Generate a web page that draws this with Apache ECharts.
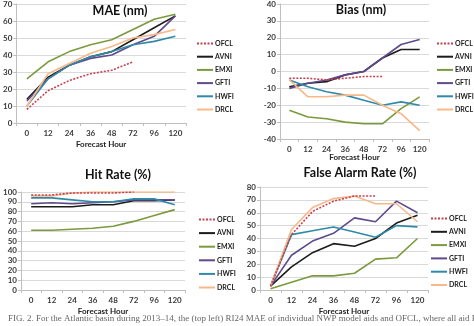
<!DOCTYPE html>
<html>
<head>
<meta charset="utf-8">
<script src="https://cdn.jsdelivr.net/npm/echarts@6/dist/echarts.min.js"></script>
<style>
  html, body { margin: 0; padding: 0; background: #fff; }
  #chart { width: 474px; height: 326px; }
</style>
</head>
<body>
<div id="chart"></div>
<script>
// Forecast hours shared by all four panels
const hours = ['0', '12', '24', '36', '48', '72', '96', '120'];
const aids = ['OFCL', 'AVNI', 'EMXI', 'GFTI', 'HWFI', 'DRCL'];

// Mean absolute error (nm)
const maeOFCL = [8, 19, 25, 29, 31, 36, null, null];
const maeAVNI = [14, 27, 34, 39, 42, 49, 56, 63];
const maeEMXI = [26, 36, 42, 46, 49, 55, 61, 64];
const maeGFTI = [13, 26, 34, 38, 40, 46, 51, 63];
const maeHWFI = [10, 26, 34, 39, 42, 46, 48, 51];
const maeDRCL = [10, 29, 35, 41, 45, 50, 52, 55];

// Bias (nm)
const biasOFCL = [-4, -4, -5, -4, -3, -3, null, null];
const biasAVNI = [-9, -7, -6, -2, 0, 8, 13, 13];
const biasEMXI = [-23, -27, -28, -30, -31, -31, -22, -15];
const biasGFTI = [-10, -7, -5, -2, 0, 8, 16, 19];
const biasHWFI = [-5, -9, -12, -14, -17, -20, -18, -20];
const biasDRCL = [-5, -15, -15, -14, -14, -20, -25, -35];

// Hit rate (%)
const hitOFCL = [97, 97, 99, 99, 99, 100, null, null];
const hitAVNI = [85, 85, 85, 87, 87, 91, 91, 92];
const hitEMXI = [61, 61, 62, 63, 65, 70, 76, 82];
const hitGFTI = [88, 89, 88, 89, 90, 92, 92, 92];
const hitHWFI = [94, 94, 92, 90, 90, 93, 93, 87];
const hitDRCL = [96, 96, 99, 100, 100, 100, 100, 100];

// False alarm rate (%)
const farOFCL = [3, 43, 61, 69, 73, 73, null, null];
const farAVNI = [3, 18, 29, 36, 34, 40, 52, 58];
const farEMXI = [1, 6, 11, 11, 13, 24, 25, 40];
const farGFTI = [3, 27, 38, 44, 56, 53, 69, 60];
const farHWFI = [3, 43, 46, 49, 45, 41, 50, 49];
const farDRCL = [3, 47, 64, 71, 73, 67, 67, 53];

const colors = {
  OFCL: '#c8404f',
  AVNI: '#1c1c1c',
  EMXI: '#7a9a3c',
  GFTI: '#5e4a8c',
  HWFI: '#2f8aa8',
  DRCL: '#f8b888'
};

const panels = [
  { title: 'MAE (nm)', min: 0, max: 70, data: [maeOFCL, maeAVNI, maeEMXI, maeGFTI, maeHWFI, maeDRCL],
    grid: { left: 14, top: 4, width: 172, height: 119 }, titlePos: { x: 120, y: 4 },
    legend: { left: 196, top: 40, gap: 6.2 }, nameGap: 17 },
  { title: 'Bias (nm)', min: -40, max: 40, data: [biasOFCL, biasAVNI, biasEMXI, biasGFTI, biasHWFI, biasDRCL],
    grid: { left: 280, top: 4, width: 149, height: 135 }, titlePos: { x: 361, y: 3 },
    legend: { left: 436, top: 40, gap: 6.2 }, nameGap: 9 },
  { title: 'Hit Rate (%)', min: 0, max: 100, data: [hitOFCL, hitAVNI, hitEMXI, hitGFTI, hitHWFI, hitDRCL],
    grid: { left: 15, top: 192, width: 170, height: 98 }, titlePos: { x: 118, y: 168 },
    legend: { left: 198, top: 216, gap: 6.6 }, nameGap: 17 },
  { title: 'False Alarm Rate (%)', min: 0, max: 80, data: [farOFCL, farAVNI, farEMXI, farGFTI, farHWFI, farDRCL],
    grid: { left: 260, top: 187, width: 168, height: 103 }, titlePos: { x: 360, y: 166 },
    legend: { left: 430, top: 215, gap: 6.3 }, nameGap: 17 }
];

const axisText = { fontFamily: 'Lato', fontWeight: 'bold', fontSize: 8, color: '#3a3a3a' };

const option = {
  animation: false,
  backgroundColor: '#fff',
  title: panels.map(p => ({
    text: p.title,
    left: p.titlePos.x,
    top: p.titlePos.y,
    padding: 0,
    textAlign: 'center',
    textStyle: { fontFamily: 'Lato', fontWeight: 'bold', fontSize: 12.5, color: '#111' }
  })),
  grid: panels.map(p => Object.assign({ containLabel: false }, p.grid)),
  xAxis: panels.map((p, i) => ({
    type: 'category',
    gridIndex: i,
    data: hours,
    boundaryGap: true,
    name: 'Forecast Hour',
    nameLocation: 'middle',
    nameGap: p.nameGap,
    nameTextStyle: { fontFamily: 'Lato', fontWeight: 'bold', fontSize: 8, color: '#222' },
    axisLine: { onZero: false, lineStyle: { color: '#bfbfbf' } },
    axisTick: { show: true, length: 3, lineStyle: { color: '#bfbfbf' } },
    axisLabel: Object.assign({ margin: 6 }, axisText)
  })),
  yAxis: panels.map((p, i) => ({
    type: 'value',
    gridIndex: i,
    min: p.min,
    max: p.max,
    interval: 10,
    axisLine: { show: true, lineStyle: { color: '#bfbfbf' } },
    axisTick: { show: true, length: 3, lineStyle: { color: '#bfbfbf' } },
    splitLine: { lineStyle: { color: '#d9d9d9', width: 1 } },
    axisLabel: Object.assign({ margin: 4 }, axisText)
  })),
  legend: panels.map(p => ({
    orient: 'vertical',
    left: p.legend.left,
    top: p.legend.top,
    padding: 0,
    itemWidth: 16,
    itemHeight: 6,
    itemGap: p.legend.gap,
    data: aids,
    itemStyle: { opacity: 0 },
    textStyle: { fontFamily: 'Lato', fontWeight: 'bold', fontSize: 7, lineHeight: 7, color: '#222', padding: [0, 0, 0, -3] }
  })),
  series: [],
  graphic: [{
    type: 'text',
    left: 8,
    top: 314,
    style: {
      text: 'FIG. 2. For the Atlantic basin during 2013–14, the (top left) RI24 MAE of individual NWP model aids and OFCL, where all aid RI',
      font: '9px "Liberation Serif"',
      fill: '#666'
    }
  }]
};

panels.forEach((p, i) => {
  aids.forEach((name, k) => {
    option.series.push({
      type: 'line',
      name: name,
      xAxisIndex: i,
      yAxisIndex: i,
      data: p.data[k],
      symbol: 'none',
      connectNulls: false,
      z: name === 'OFCL' ? 5 : 3,
      lineStyle: {
        color: colors[name],
        width: 1.6,
        type: name === 'OFCL' ? [2, 1.5] : 'solid'
      },
      itemStyle: { color: colors[name] }
    });
  });
});

const chart = echarts.init(document.getElementById('chart'), null, { renderer: 'canvas' });
chart.setOption(option);
</script>
</body>
</html>
